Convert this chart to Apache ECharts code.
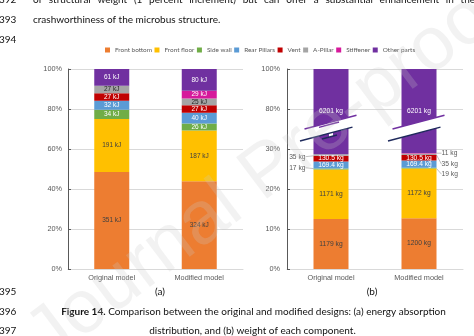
<!DOCTYPE html>
<html><head><meta charset="utf-8">
<script src="https://cdn.jsdelivr.net/npm/echarts@6/dist/echarts.min.js"></script>
<style>html,body{margin:0;padding:0;background:#fff;overflow:hidden}#c{width:474px;height:336px}</style>
</head><body><div id="c"></div>
<script>
// ---------- data ----------
const components = ['Front bottom','Front floor','Side wall','Rear Pillars','Vent','A-Pillar','Stiffener','Other parts'];
const categories = ['Original model','Modified model'];
// (a) energy absorption, kJ
const energyOriginal = [351,191,34,32,27,27,0,61];
const energyModified = [324,187,26,40,27,25,29,80];
// (b) weight of each component, kg (labels)
const weightOriginal = [1179,1171,17,169.4,130.5,35,0,6201];
const weightModified = [1200,1172,19,169.4,130.5,35,11,6201];
// (b) share of total weight, %
const shareOriginal = [12.5,12.4,0.2,1.8,1.4,0.4,0,71.3];
const shareModified = [12.7,12.4,0.2,1.8,1.4,0.4,0.1,71.0];
// tick labels
const leftTickLabels = ['0%','20%','40%','60%','80%','100%'];
const rightTickValues = [0,10,20,30,80,100];
const rightTickLabels = ['0%','10%','20%','30%','80%','100%'];

// ---------- styles ----------
const colors = ['#ED7D31','#FFC000','#70AD47','#5B9BD5','#C00000','#A5A5A5','#D6199B','#7030A0'];
const labelColors = ['#404040','#404040','#ffffff','#ffffff','#ffffff','#262626','#ffffff','#ffffff'];
const FC = 'Liberation Sans, Arial, sans-serif';
const FT = 'Lato, Open Sans, sans-serif';

function toPct(arr){ const s = arr.reduce((a,b)=>a+b,0); return arr.map(v=>v/s*100); }
const pctO = toPct(energyOriginal), pctM = toPct(energyModified);

// broken axis: real % -> display position (ticks evenly spaced)
function toDisplay(p){
  for(let i=0;i<rightTickValues.length-1;i++){
    const a=rightTickValues[i], b=rightTickValues[i+1];
    if(p<=b) return (i + (p-a)/(b-a))*10;
  }
  return (rightTickValues.length-1)*10;
}
function displayHeights(shares){
  let cum=0;
  return shares.map(s=>{ const d0=toDisplay(cum); cum+=s; return toDisplay(Math.min(cum,100))-d0; });
}
const dispO = displayHeights(shareOriginal), dispM = displayHeights(shareModified);

// outside labels for thin slices in (b): [original, modified]
const outside = {
  'Side wall': [{pos:'left',dy:-1.3},{pos:'right',dy:6}],
  'A-Pillar':  [{pos:'left',dy:1.7},{pos:'right',dy:10}],
  'Stiffener': [null,{pos:'right',dy:0}]
};

const series = [];
components.forEach((name,i)=>{
  // (a)
  series.push({
    name, type:'bar', xAxisIndex:0, yAxisIndex:0, stack:'energy', barWidth:35,
    itemStyle:{color:colors[i]},
    label:{show:true, position:'inside', fontFamily:FC, fontSize:6.5, color:labelColors[i],
      formatter:(p)=>[energyOriginal,energyModified][p.dataIndex][i]+' kJ'},
    data:[pctO[i],pctM[i]].map((v,k)=>{
      const e=[energyOriginal,energyModified][k][i];
      return e>0?{value:v}:{value:v,label:{show:false}};
    })
  });
  // (b)
  const out = outside[name];
  const s = {
    name, type:'bar', xAxisIndex:1, yAxisIndex:1, stack:'weight', barWidth:35,
    itemStyle:{color:colors[i]},
    label:{show:true, position:'inside', fontFamily:FC, fontSize:6.7, color:labelColors[i],
      formatter:(p)=>[weightOriginal,weightModified][p.dataIndex][i]+' kg'},
    data:[dispO[i],dispM[i]].map((v,k)=>{
      const w=[weightOriginal,weightModified][k][i];
      if(!(w>0)) return {value:v,label:{show:false}};
      if(out && out[k]) return {value:v,label:{show:true,position:out[k].pos,distance:out[k].pos==='left'?8:5,color:'#595959',fontSize:6.7}};
      return {value:v};
    })
  };
  if(out){
    s.labelLine = {show:true, lineStyle:{color:'#a6a6a6', width:0.7}};
    s.labelLayout = (p)=>{ const o=out[p.dataIndex]; return o?{dy:o.dy}:{}; };
  }
  series.push(s);
});

// ---------- paper text ----------
const graphic = [];
const BS = 10;
function txt(id,x,y,text,opts){
  graphic.push({type:'text',id,x,y,z:50,silent:true,
    style:Object.assign({text,fill:'#111',fontFamily:FT,fontSize:BS,align:'left',verticalAlign:'middle'},opts||{})});
}
// justified top line (cut by the page edge)
(function(){
  const words='of structural weight (1 percent increment) but can offer a substantial enhancement in the'.split(' ');
  const ctx=document.createElement('canvas').getContext('2d');
  ctx.font=BS+'px Lato';
  const widths=words.map(w=>ctx.measureText(w).width);
  const total=widths.reduce((a,b)=>a+b,0);
  const gap=(475-33-total)/(words.length-1);
  let x=33;
  words.forEach((w,k)=>{ txt('w392_'+k,x,0,w); x+=widths[k]+gap; });
})();
['392','393','394'].forEach((n,k)=>txt('n'+n,-1,k*20,n));
txt('t393',33,20,'crashworthiness of the microbus structure.');
txt('n395',-1,292,'395');
txt('n396',-1,311.7,'396');
txt('n397',-1,331,'397');
txt('ta',160,292,'(a)',{align:'center'});
txt('tb',372,292,'(b)',{align:'center'});
graphic.push({type:'text',id:'cap1',x:253.5,y:311.7,z:50,silent:true,
  style:{text:'{b|Figure 14.} Comparison between the original and modified designs: (a) energy absorption',
    fill:'#111',fontFamily:FT,fontSize:BS,align:'center',verticalAlign:'middle',
    rich:{b:{fontWeight:'bold',fontFamily:FT,fontSize:BS,fill:'#111'}}}});
txt('cap2',252.5,331,'distribution, and (b) weight of each component.',{align:'center'});
// watermark
graphic.push({type:'text',id:'wm',x:268,y:172,rotation:37*Math.PI/180,z:200,silent:true,
  style:{text:'Journal Pre-proof',fill:'rgba(200,200,200,0.24)',fontFamily:FC,fontSize:75,align:'center',verticalAlign:'middle'}});

const axisLabelStyle = {color:'#595959', fontFamily:FC, fontSize:7.3};
const option = {
  animation:false,
  textStyle:{fontFamily:FC},
  legend:{
    data:components, left:100, top:42, icon:'rect', itemWidth:5, itemHeight:5, itemGap:2.5,
    textStyle:{color:'#595959', fontFamily:FT, fontSize:6.4}
  },
  grid:[
    {left:68, top:69, width:175, height:200, containLabel:false},
    {left:287, top:69, width:176, height:200, containLabel:false}
  ],
  xAxis:[0,1].map(g=>({
    type:'category', gridIndex:g, data:categories,
    axisLine:{show:true, lineStyle:{color:'#D9D9D9'}}, axisTick:{show:false},
    axisLabel:Object.assign({margin:5, fontSize:7},axisLabelStyle)
  })),
  yAxis:[
    {type:'value', gridIndex:0, min:0, max:100, interval:20,
     axisLine:{show:true, lineStyle:{color:'#595959'}},
     axisTick:{show:true, inside:true, length:3, lineStyle:{color:'#595959'}},
     splitLine:{show:true, lineStyle:{color:'#D9D9D9'}},
     axisLabel:Object.assign({margin:6, formatter:(v)=>leftTickLabels[Math.round(v/20)]},axisLabelStyle)},
    {type:'value', gridIndex:1, min:0, max:50, interval:10,
     axisLine:{show:true, lineStyle:{color:'#595959'}},
     axisTick:{show:true, inside:true, length:3, lineStyle:{color:'#595959'}},
     splitLine:{show:true, lineStyle:{color:'#D9D9D9'}},
     axisLabel:Object.assign({margin:7, formatter:(v)=>rightTickLabels[Math.round(v/10)]},axisLabelStyle)}
  ],
  series,
  graphic
};

const chart = echarts.init(document.getElementById('c'));
chart.setOption(option);

// ---------- break symbols on (b), positioned through the axes ----------
const breakPct = 57;
const extra = [];
const s = -0.265;
const barHalf = 17.5;
categories.forEach((c,k)=>{
  const [cx, cy] = chart.convertToPixel({gridIndex:1}, [k, toDisplay(breakPct)]);
  const up = (x)=>cy-5.4+s*(x-cx), lo=(x)=>cy+5.4+s*(x-cx);
  const x1=cx-barHalf-1, x2=cx+barHalf+1;
  extra.push({type:'polygon',id:'band'+k,z:60,silent:true,
    shape:{points:[[x1,up(x1)],[x2,up(x2)],[x2,lo(x2)],[x1,lo(x1)]]},style:{fill:'#fff'}});
  extra.push({type:'line',id:'up'+k,z:61,silent:true,
    shape:{x1:cx-26.5,y1:up(cx-26.5),x2:cx+25.5,y2:up(cx+25.5)},style:{stroke:'#7030A0',lineWidth:1.5}});
  extra.push({type:'line',id:'lo'+k,z:61,silent:true,
    shape:{x1:cx-31,y1:lo(cx-31),x2:cx+21.5,y2:lo(cx+21.5)},style:{stroke:'#1F2A5C',lineWidth:1.5}});
});
(function(){
  const [ax, ay0] = chart.convertToPixel({gridIndex:1}, [0, toDisplay(breakPct)]);
  const axX = chart.convertToPixel({gridIndex:1}, [-0.5, 0])[0];
  const cy = ay0+3;
  const up=(x)=>cy-6.2+s*(x-axX), lo=(x)=>cy+6.2+s*(x-axX);
  extra.push({type:'polygon',id:'aband',z:60,silent:true,
    shape:{points:[[axX-2,up(axX-2)],[axX+2,up(axX+2)],[axX+2,lo(axX+2)],[axX-2,lo(axX-2)]]},style:{fill:'#fff'}});
  extra.push({type:'line',id:'aup',z:61,silent:true,
    shape:{x1:axX-12,y1:up(axX-12),x2:axX+8,y2:up(axX+8)},style:{stroke:'#7030A0',lineWidth:1.5}});
  extra.push({type:'line',id:'alo',z:61,silent:true,
    shape:{x1:axX-9,y1:lo(axX-9),x2:axX+6,y2:lo(axX+6)},style:{stroke:'#1F2A5C',lineWidth:1.5}});
})();
chart.setOption({graphic: graphic.concat(extra)});
</script></body></html>
